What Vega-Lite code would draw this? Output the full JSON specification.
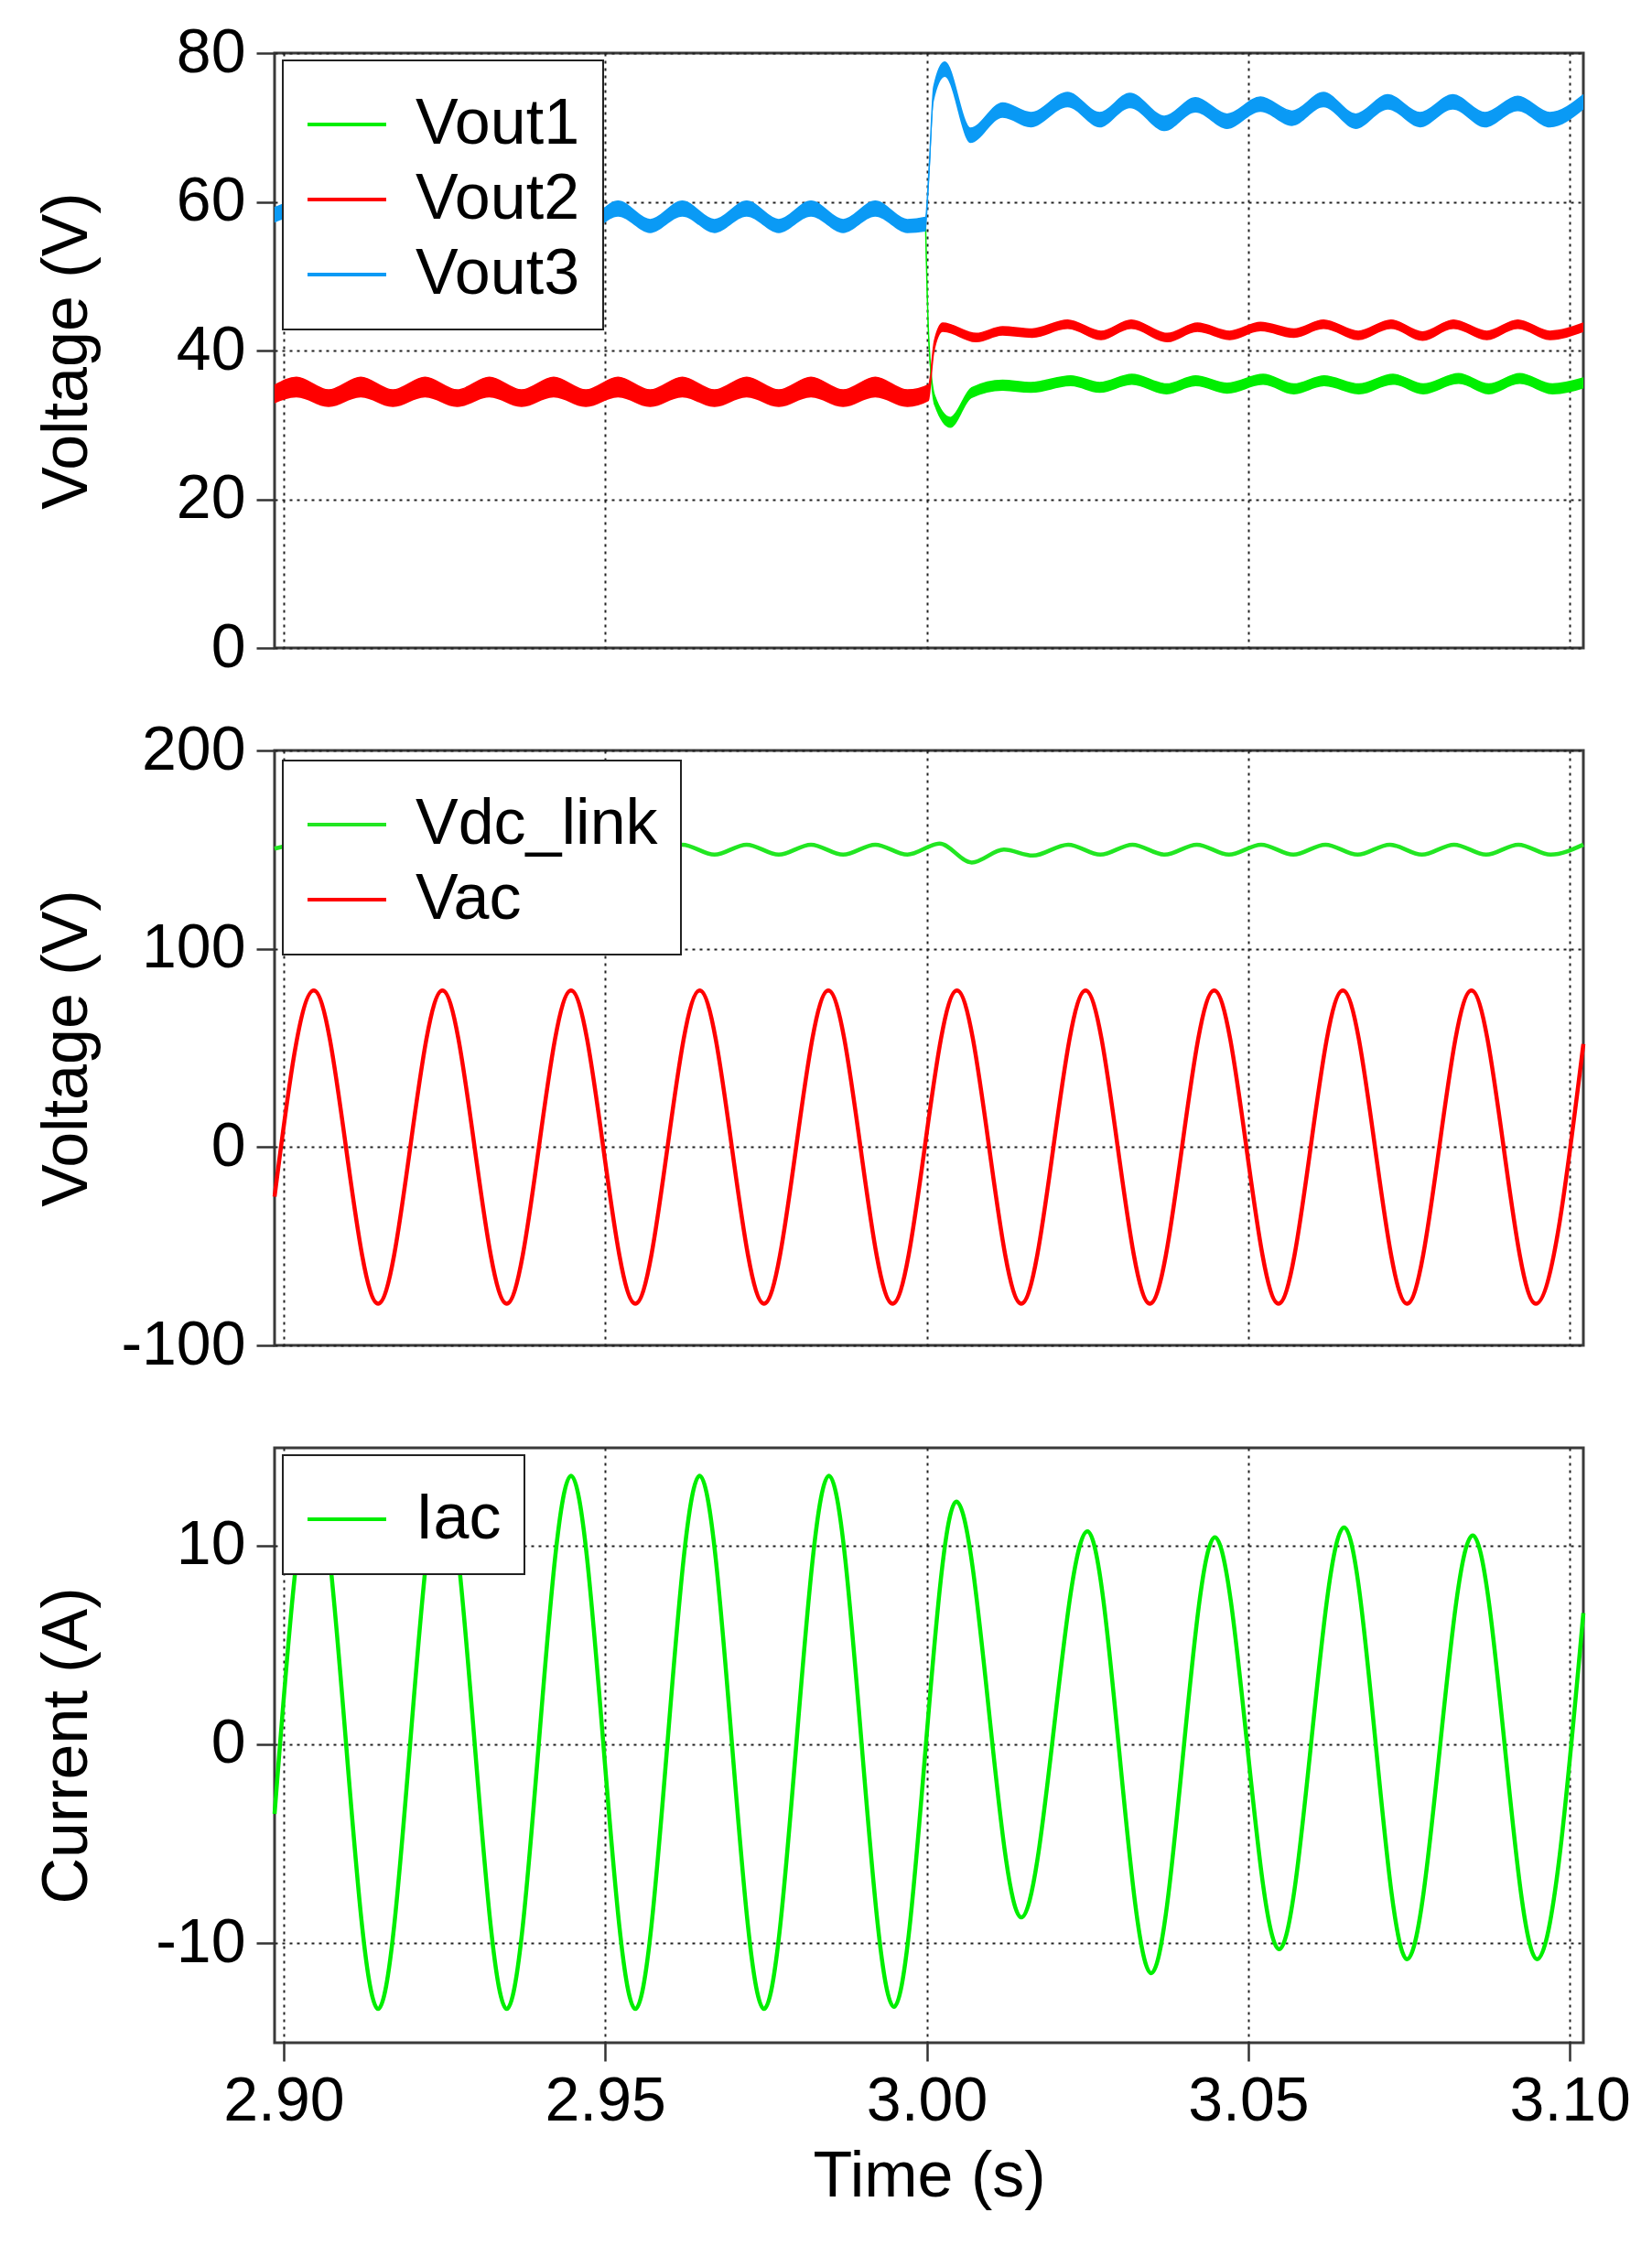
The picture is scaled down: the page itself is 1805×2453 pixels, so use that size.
{
  "$schema": "https://vega.github.io/schema/vega-lite/v6.json",
  "background": "white",
  "padding": {"left": 36, "top": 22, "right": 10, "bottom": 10},
  "spacing": 112,
  "bounds": "flush",
  "resolve": {"scale": {"color": "independent"}, "legend": {"color": "independent"}},
  "config": {
    "font": "Liberation Sans",
    "view": {"stroke": "#3a3a3a", "strokeWidth": 3},
    "axis": {
      "labelFont": "Liberation Sans", "labelFontSize": 68, "labelColor": "#000",
      "titleFont": "Liberation Sans", "titleFontSize": 70, "titleFontWeight": "normal", "titleColor": "#000",
      "gridColor": "#222", "gridDash": [3, 5], "gridWidth": 2, "gridOpacity": 1,
      "tickColor": "#333", "tickWidth": 2.5, "tickSize": 20, "labelPadding": 12, "domain": false
    },
    "legend": {
      "fillColor": "white", "strokeColor": "#222", "strokeWidth": 2, "padding": 25,
      "labelFont": "Liberation Sans", "labelFontSize": 70, "labelColor": "#000", "labelLimit": 0,
      "symbolType": "stroke", "symbolSize": 7396, "symbolStrokeWidth": 4, "labelOffset": 30, "rowPadding": 2
    }
  },
  "datasets": {
    "top": [
      {"t": 2.9998, "s": "Vout1", "lo": 56.2, "hi": 57.7},
      {"t": 3.0003, "s": "Vout1", "lo": 40.8, "hi": 42.0},
      {"t": 3.0012, "s": "Vout1", "lo": 32.6, "hi": 34.0},
      {"t": 3.0037, "s": "Vout1", "lo": 29.6, "hi": 31.0},
      {"t": 3.0070, "s": "Vout1", "lo": 33.6, "hi": 35.0},
      {"t": 3.0118, "s": "Vout1", "lo": 34.6, "hi": 36.0},
      {"t": 3.0162, "s": "Vout1", "lo": 34.3, "hi": 35.7},
      {"t": 3.0224, "s": "Vout1", "lo": 35.2, "hi": 36.6},
      {"t": 3.0269, "s": "Vout1", "lo": 34.3, "hi": 35.7},
      {"t": 3.0319, "s": "Vout1", "lo": 35.4, "hi": 36.8},
      {"t": 3.0373, "s": "Vout1", "lo": 34.1, "hi": 35.5},
      {"t": 3.0418, "s": "Vout1", "lo": 35.2, "hi": 36.6},
      {"t": 3.0467, "s": "Vout1", "lo": 34.2, "hi": 35.6},
      {"t": 3.0523, "s": "Vout1", "lo": 35.4, "hi": 36.8},
      {"t": 3.0571, "s": "Vout1", "lo": 34.1, "hi": 35.5},
      {"t": 3.0618, "s": "Vout1", "lo": 35.2, "hi": 36.6},
      {"t": 3.0672, "s": "Vout1", "lo": 34.1, "hi": 35.5},
      {"t": 3.0725, "s": "Vout1", "lo": 35.4, "hi": 36.8},
      {"t": 3.0772, "s": "Vout1", "lo": 34.1, "hi": 35.5},
      {"t": 3.0827, "s": "Vout1", "lo": 35.5, "hi": 36.9},
      {"t": 3.0874, "s": "Vout1", "lo": 34.1, "hi": 35.5},
      {"t": 3.0922, "s": "Vout1", "lo": 35.5, "hi": 36.9},
      {"t": 3.0973, "s": "Vout1", "lo": 34.1, "hi": 35.5},
      {"t": 3.1021, "s": "Vout1", "lo": 34.9, "hi": 36.3},

      {"t": 2.8986, "s": "Vout2", "lo": 32.9, "hi": 35.3},
      {"t": 2.902, "s": "Vout2", "lo": 33.7, "hi": 36.4},
      {"t": 2.907, "s": "Vout2", "lo": 32.4, "hi": 34.7},
      {"t": 2.912, "s": "Vout2", "lo": 33.7, "hi": 36.4},
      {"t": 2.917, "s": "Vout2", "lo": 32.4, "hi": 34.7},
      {"t": 2.922, "s": "Vout2", "lo": 33.7, "hi": 36.4},
      {"t": 2.927, "s": "Vout2", "lo": 32.4, "hi": 34.7},
      {"t": 2.932, "s": "Vout2", "lo": 33.7, "hi": 36.4},
      {"t": 2.937, "s": "Vout2", "lo": 32.4, "hi": 34.7},
      {"t": 2.942, "s": "Vout2", "lo": 33.7, "hi": 36.4},
      {"t": 2.947, "s": "Vout2", "lo": 32.4, "hi": 34.7},
      {"t": 2.952, "s": "Vout2", "lo": 33.7, "hi": 36.4},
      {"t": 2.957, "s": "Vout2", "lo": 32.4, "hi": 34.7},
      {"t": 2.962, "s": "Vout2", "lo": 33.7, "hi": 36.4},
      {"t": 2.967, "s": "Vout2", "lo": 32.4, "hi": 34.7},
      {"t": 2.972, "s": "Vout2", "lo": 33.7, "hi": 36.4},
      {"t": 2.977, "s": "Vout2", "lo": 32.4, "hi": 34.7},
      {"t": 2.982, "s": "Vout2", "lo": 33.7, "hi": 36.4},
      {"t": 2.987, "s": "Vout2", "lo": 32.4, "hi": 34.7},
      {"t": 2.992, "s": "Vout2", "lo": 33.7, "hi": 36.4},
      {"t": 2.997, "s": "Vout2", "lo": 32.4, "hi": 34.7},
      {"t": 3.0003, "s": "Vout2", "lo": 33.2, "hi": 35.4},
      {"t": 3.0012, "s": "Vout2", "lo": 39.8, "hi": 41.3},
      {"t": 3.0025, "s": "Vout2", "lo": 42.5, "hi": 43.7},
      {"t": 3.0077, "s": "Vout2", "lo": 41.1, "hi": 42.3},
      {"t": 3.0118, "s": "Vout2", "lo": 42.0, "hi": 43.2},
      {"t": 3.0164, "s": "Vout2", "lo": 41.7, "hi": 42.9},
      {"t": 3.0219, "s": "Vout2", "lo": 42.9, "hi": 44.1},
      {"t": 3.0271, "s": "Vout2", "lo": 41.4, "hi": 42.6},
      {"t": 3.0318, "s": "Vout2", "lo": 42.9, "hi": 44.1},
      {"t": 3.0374, "s": "Vout2", "lo": 41.1, "hi": 42.3},
      {"t": 3.0421, "s": "Vout2", "lo": 42.5, "hi": 43.7},
      {"t": 3.0471, "s": "Vout2", "lo": 41.4, "hi": 42.6},
      {"t": 3.0519, "s": "Vout2", "lo": 42.6, "hi": 43.8},
      {"t": 3.0571, "s": "Vout2", "lo": 41.7, "hi": 42.9},
      {"t": 3.0617, "s": "Vout2", "lo": 42.9, "hi": 44.1},
      {"t": 3.0671, "s": "Vout2", "lo": 41.4, "hi": 42.6},
      {"t": 3.0722, "s": "Vout2", "lo": 42.9, "hi": 44.1},
      {"t": 3.0771, "s": "Vout2", "lo": 41.3, "hi": 42.5},
      {"t": 3.0819, "s": "Vout2", "lo": 42.9, "hi": 44.1},
      {"t": 3.0871, "s": "Vout2", "lo": 41.4, "hi": 42.6},
      {"t": 3.0919, "s": "Vout2", "lo": 42.9, "hi": 44.1},
      {"t": 3.0969, "s": "Vout2", "lo": 41.4, "hi": 42.6},
      {"t": 3.1021, "s": "Vout2", "lo": 42.5, "hi": 43.7},

      {"t": 2.8986, "s": "Vout3", "lo": 57.2, "hi": 59.2},
      {"t": 2.902, "s": "Vout3", "lo": 58.0, "hi": 60.1},
      {"t": 2.907, "s": "Vout3", "lo": 55.8, "hi": 57.6},
      {"t": 2.912, "s": "Vout3", "lo": 58.0, "hi": 60.1},
      {"t": 2.917, "s": "Vout3", "lo": 55.8, "hi": 57.6},
      {"t": 2.922, "s": "Vout3", "lo": 58.0, "hi": 60.1},
      {"t": 2.927, "s": "Vout3", "lo": 55.8, "hi": 57.6},
      {"t": 2.932, "s": "Vout3", "lo": 58.0, "hi": 60.1},
      {"t": 2.937, "s": "Vout3", "lo": 55.8, "hi": 57.6},
      {"t": 2.942, "s": "Vout3", "lo": 58.0, "hi": 60.1},
      {"t": 2.947, "s": "Vout3", "lo": 55.8, "hi": 57.6},
      {"t": 2.952, "s": "Vout3", "lo": 58.0, "hi": 60.1},
      {"t": 2.957, "s": "Vout3", "lo": 55.8, "hi": 57.6},
      {"t": 2.962, "s": "Vout3", "lo": 58.0, "hi": 60.1},
      {"t": 2.967, "s": "Vout3", "lo": 55.8, "hi": 57.6},
      {"t": 2.972, "s": "Vout3", "lo": 58.0, "hi": 60.1},
      {"t": 2.977, "s": "Vout3", "lo": 55.8, "hi": 57.6},
      {"t": 2.982, "s": "Vout3", "lo": 58.0, "hi": 60.1},
      {"t": 2.987, "s": "Vout3", "lo": 55.8, "hi": 57.6},
      {"t": 2.992, "s": "Vout3", "lo": 58.0, "hi": 60.1},
      {"t": 2.997, "s": "Vout3", "lo": 55.8, "hi": 57.6},
      {"t": 2.9998, "s": "Vout3", "lo": 56.0, "hi": 57.9},
      {"t": 3.0004, "s": "Vout3", "lo": 63.0, "hi": 65.0},
      {"t": 3.0011, "s": "Vout3", "lo": 73.5, "hi": 75.5},
      {"t": 3.0028, "s": "Vout3", "lo": 76.8, "hi": 78.8},
      {"t": 3.0068, "s": "Vout3", "lo": 67.9, "hi": 69.9},
      {"t": 3.0118, "s": "Vout3", "lo": 71.3, "hi": 73.3},
      {"t": 3.0162, "s": "Vout3", "lo": 70.0, "hi": 72.0},
      {"t": 3.0219, "s": "Vout3", "lo": 72.7, "hi": 74.7},
      {"t": 3.0269, "s": "Vout3", "lo": 70.0, "hi": 72.0},
      {"t": 3.0316, "s": "Vout3", "lo": 72.6, "hi": 74.6},
      {"t": 3.0370, "s": "Vout3", "lo": 69.5, "hi": 71.5},
      {"t": 3.0418, "s": "Vout3", "lo": 72.0, "hi": 74.0},
      {"t": 3.0467, "s": "Vout3", "lo": 69.8, "hi": 71.8},
      {"t": 3.0519, "s": "Vout3", "lo": 72.1, "hi": 74.1},
      {"t": 3.0568, "s": "Vout3", "lo": 70.2, "hi": 72.2},
      {"t": 3.0617, "s": "Vout3", "lo": 72.7, "hi": 74.7},
      {"t": 3.0667, "s": "Vout3", "lo": 69.8, "hi": 71.8},
      {"t": 3.0717, "s": "Vout3", "lo": 72.4, "hi": 74.4},
      {"t": 3.0767, "s": "Vout3", "lo": 70.0, "hi": 72.0},
      {"t": 3.0818, "s": "Vout3", "lo": 72.4, "hi": 74.4},
      {"t": 3.0868, "s": "Vout3", "lo": 70.0, "hi": 72.0},
      {"t": 3.0919, "s": "Vout3", "lo": 72.2, "hi": 74.2},
      {"t": 3.0969, "s": "Vout3", "lo": 70.0, "hi": 72.0},
      {"t": 3.1021, "s": "Vout3", "lo": 72.4, "hi": 74.4}
    ],
    "mid": [
      {"t": 2.8986, "s": "Vdc_link", "v": 150.5},
      {"t": 2.902, "s": "Vdc_link", "v": 152.5},
      {"t": 2.907, "s": "Vdc_link", "v": 147.5},
      {"t": 2.912, "s": "Vdc_link", "v": 152.5},
      {"t": 2.917, "s": "Vdc_link", "v": 147.5},
      {"t": 2.922, "s": "Vdc_link", "v": 152.5},
      {"t": 2.927, "s": "Vdc_link", "v": 147.5},
      {"t": 2.932, "s": "Vdc_link", "v": 152.5},
      {"t": 2.937, "s": "Vdc_link", "v": 147.5},
      {"t": 2.942, "s": "Vdc_link", "v": 152.5},
      {"t": 2.947, "s": "Vdc_link", "v": 147.5},
      {"t": 2.952, "s": "Vdc_link", "v": 152.5},
      {"t": 2.957, "s": "Vdc_link", "v": 147.5},
      {"t": 2.962, "s": "Vdc_link", "v": 152.5},
      {"t": 2.967, "s": "Vdc_link", "v": 147.5},
      {"t": 2.972, "s": "Vdc_link", "v": 152.5},
      {"t": 2.977, "s": "Vdc_link", "v": 147.5},
      {"t": 2.982, "s": "Vdc_link", "v": 152.5},
      {"t": 2.987, "s": "Vdc_link", "v": 147.5},
      {"t": 2.992, "s": "Vdc_link", "v": 152.5},
      {"t": 2.997, "s": "Vdc_link", "v": 147.5},
      {"t": 3.002, "s": "Vdc_link", "v": 153.0},
      {"t": 3.007, "s": "Vdc_link", "v": 143.5},
      {"t": 3.012, "s": "Vdc_link", "v": 150.0},
      {"t": 3.0165, "s": "Vdc_link", "v": 147.0},
      {"t": 3.022, "s": "Vdc_link", "v": 152.5},
      {"t": 3.027, "s": "Vdc_link", "v": 147.5},
      {"t": 3.032, "s": "Vdc_link", "v": 152.5},
      {"t": 3.037, "s": "Vdc_link", "v": 147.5},
      {"t": 3.042, "s": "Vdc_link", "v": 152.5},
      {"t": 3.047, "s": "Vdc_link", "v": 147.5},
      {"t": 3.052, "s": "Vdc_link", "v": 152.5},
      {"t": 3.057, "s": "Vdc_link", "v": 147.5},
      {"t": 3.062, "s": "Vdc_link", "v": 152.5},
      {"t": 3.067, "s": "Vdc_link", "v": 147.5},
      {"t": 3.072, "s": "Vdc_link", "v": 152.5},
      {"t": 3.077, "s": "Vdc_link", "v": 147.5},
      {"t": 3.082, "s": "Vdc_link", "v": 152.5},
      {"t": 3.087, "s": "Vdc_link", "v": 147.5},
      {"t": 3.092, "s": "Vdc_link", "v": 152.5},
      {"t": 3.097, "s": "Vdc_link", "v": 147.5},
      {"t": 3.1021, "s": "Vdc_link", "v": 152.5},

      {"t": 2.8986, "s": "Vac", "v": -25},
      {"t": 2.9047, "s": "Vac", "v": 79},
      {"t": 2.9147, "s": "Vac", "v": -79},
      {"t": 2.9247, "s": "Vac", "v": 79},
      {"t": 2.9347, "s": "Vac", "v": -79},
      {"t": 2.9447, "s": "Vac", "v": 79},
      {"t": 2.9547, "s": "Vac", "v": -79},
      {"t": 2.9647, "s": "Vac", "v": 79},
      {"t": 2.9747, "s": "Vac", "v": -79},
      {"t": 2.9847, "s": "Vac", "v": 79},
      {"t": 2.9947, "s": "Vac", "v": -79},
      {"t": 3.0047, "s": "Vac", "v": 79},
      {"t": 3.0147, "s": "Vac", "v": -79},
      {"t": 3.0247, "s": "Vac", "v": 79},
      {"t": 3.0347, "s": "Vac", "v": -79},
      {"t": 3.0447, "s": "Vac", "v": 79},
      {"t": 3.0547, "s": "Vac", "v": -79},
      {"t": 3.0647, "s": "Vac", "v": 79},
      {"t": 3.0747, "s": "Vac", "v": -79},
      {"t": 3.0847, "s": "Vac", "v": 79},
      {"t": 3.0947, "s": "Vac", "v": -79},
      {"t": 3.1021, "s": "Vac", "v": 52}
    ],
    "bot": [
      {"t": 2.8986, "s": "Iac", "v": -3.5},
      {"t": 2.9047, "s": "Iac", "v": 13.5},
      {"t": 2.9147, "s": "Iac", "v": -13.3},
      {"t": 2.9247, "s": "Iac", "v": 13.5},
      {"t": 2.9347, "s": "Iac", "v": -13.3},
      {"t": 2.9447, "s": "Iac", "v": 13.5},
      {"t": 2.9547, "s": "Iac", "v": -13.3},
      {"t": 2.9647, "s": "Iac", "v": 13.5},
      {"t": 2.9747, "s": "Iac", "v": -13.3},
      {"t": 2.9848, "s": "Iac", "v": 13.5},
      {"t": 2.9949, "s": "Iac", "v": -13.2},
      {"t": 3.0046, "s": "Iac", "v": 12.2},
      {"t": 3.0147, "s": "Iac", "v": -8.7},
      {"t": 3.025, "s": "Iac", "v": 10.7},
      {"t": 3.0349, "s": "Iac", "v": -11.5},
      {"t": 3.0448, "s": "Iac", "v": 10.4},
      {"t": 3.0548, "s": "Iac", "v": -10.3},
      {"t": 3.0649, "s": "Iac", "v": 10.9},
      {"t": 3.0747, "s": "Iac", "v": -10.8},
      {"t": 3.0849, "s": "Iac", "v": 10.5},
      {"t": 3.0949, "s": "Iac", "v": -10.8},
      {"t": 3.1021, "s": "Iac", "v": 6.6}
    ]
  },
  "vconcat": [
    {
      "width": 1430,
      "height": 650,
      "data": {"name": "top"},
      "layer": [
        {
          "mark": {"type": "line", "interpolate": "monotone", "strokeWidth": 1.5},
          "encoding": {
            "x": {"field": "t", "type": "quantitative",
              "scale": {"domain": [2.8986, 3.1021], "nice": false, "zero": false},
              "axis": {"values": [2.9, 2.95, 3.0, 3.05, 3.1], "grid": true, "labels": false, "ticks": false, "title": null}},
            "y": {"field": "hi", "type": "quantitative",
              "scale": {"domain": [0, 80], "nice": false},
              "axis": {"values": [0, 20, 40, 60, 80], "labelExpr": "'' + datum.value", "grid": true, "title": "Voltage (V)", "titleX": -206, "titleBaseline": "alphabetic"}},
            "color": {"field": "s", "type": "nominal",
              "scale": {"domain": ["Vout1", "Vout2", "Vout3"], "range": ["#00ee00", "#ff0000", "#0a9af5"]},
              "legend": {"title": null, "orient": "none", "legendX": 9, "legendY": 8, "symbolType": "stroke"}}
          }
        },
        {
          "mark": {"type": "area", "interpolate": "monotone"},
          "encoding": {
            "x": {"field": "t", "type": "quantitative", "scale": {"domain": [2.8986, 3.1021], "nice": false, "zero": false}},
            "y": {"field": "lo", "type": "quantitative", "scale": {"domain": [0, 80], "nice": false}},
            "y2": {"field": "hi"},
            "color": {"field": "s", "type": "nominal",
              "scale": {"domain": ["Vout1", "Vout2", "Vout3"], "range": ["#00ee00", "#ff0000", "#0a9af5"]},
              "legend": {"title": null, "orient": "none", "legendX": 9, "legendY": 8, "symbolType": "stroke"}}
          }
        }
      ]
    },
    {
      "width": 1430,
      "height": 650,
      "data": {"name": "mid"},
      "mark": {"type": "line", "interpolate": "monotone", "strokeWidth": 4.5},
      "encoding": {
        "x": {"field": "t", "type": "quantitative",
          "scale": {"domain": [2.8986, 3.1021], "nice": false, "zero": false},
          "axis": {"values": [2.9, 2.95, 3.0, 3.05, 3.1], "grid": true, "labels": false, "ticks": false, "title": null}},
        "y": {"field": "v", "type": "quantitative",
          "scale": {"domain": [-100, 200], "nice": false},
          "axis": {"values": [-100, 0, 100, 200], "labelExpr": "'' + datum.value", "grid": true, "title": "Voltage (V)", "titleX": -206, "titleBaseline": "alphabetic"}},
        "color": {"field": "s", "type": "nominal",
          "scale": {"domain": ["Vdc_link", "Vac"], "range": ["#22e622", "#ff0000"]},
          "legend": {"title": null, "orient": "none", "legendX": 9, "legendY": 11, "symbolType": "stroke"}}
      }
    },
    {
      "width": 1430,
      "height": 650,
      "data": {"name": "bot"},
      "mark": {"type": "line", "interpolate": "monotone", "strokeWidth": 4.5},
      "encoding": {
        "x": {"field": "t", "type": "quantitative",
          "scale": {"domain": [2.8986, 3.1021], "nice": false, "zero": false},
          "axis": {"values": [2.9, 2.95, 3.0, 3.05, 3.1], "format": ".2f", "grid": true, "title": "Time (s)", "titlePadding": 14, "labelPadding": 10}},
        "y": {"field": "v", "type": "quantitative",
          "scale": {"domain": [-15, 14.9], "nice": false},
          "axis": {"values": [-10, 0, 10], "labelExpr": "'' + datum.value", "grid": true, "title": "Current (A)", "titleX": -206, "titleBaseline": "alphabetic"}},
        "color": {"field": "s", "type": "nominal",
          "scale": {"domain": ["Iac"], "range": ["#00ee00"]},
          "legend": {"title": null, "orient": "none", "legendX": 9, "legendY": 8, "symbolType": "stroke"}}
      }
    }
  ]
}
